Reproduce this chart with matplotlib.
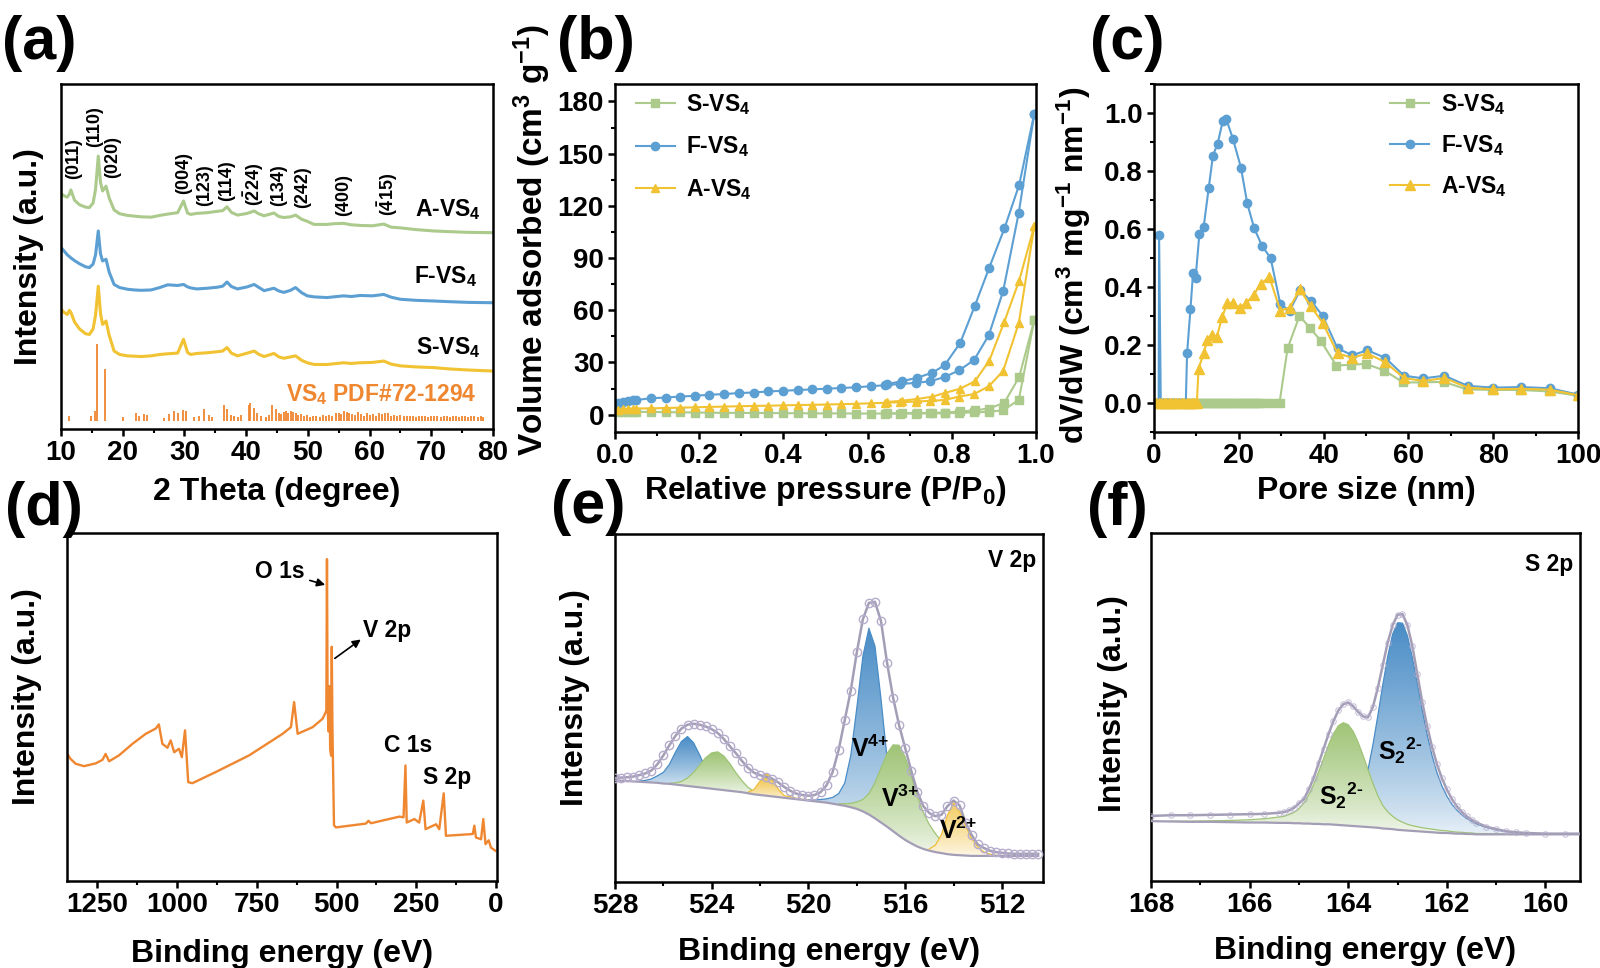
import numpy as np
import matplotlib
matplotlib.use("Agg")
import matplotlib.pyplot as plt
import matplotlib.colors as mcolors
from matplotlib.ticker import MultipleLocator, FormatStrFormatter, NullLocator

# ---------------- (a) XRD patterns ----------------
two_theta = [10.0, 10.5, 11.0, 11.35, 11.6, 12.2, 13.0, 14.0, 14.6, 15.2,
             15.6, 16.04, 16.4, 16.74, 17.3, 17.8, 18.6, 19.5, 20.8, 21.9,
             23.0, 24.6, 26.0, 27.3, 28.9, 29.85, 30.5, 31.0, 32.0, 33.7,
             35.35, 36.2, 36.9, 37.6, 38.6, 40.2, 41.3, 42.0, 42.9, 44.5,
             45.3, 46.1, 47.2, 48.0, 49.0, 49.9, 51.0, 53.1, 54.2, 55.8,
             57.0, 58.5, 60.5, 62.3, 63.5, 65.0, 67.5, 70.4, 73.0, 76.0, 80.0]
xrd_A = [68.2, 67.6, 67.2, 68.0, 69.3, 66.3, 65.0, 64.3, 64.2, 65.5,
         69.5, 79.1, 71.5, 69.0, 70.4, 67.0, 63.5, 62.4, 61.9, 61.7,
         61.5, 61.4, 61.9, 62.3, 62.7, 66.1, 62.6, 62.2, 62.5, 62.7,
         63.1, 63.3, 64.4, 62.8, 62.0, 62.5, 63.2, 62.4, 61.8, 62.6,
         61.6, 61.3, 61.5, 62.0, 60.8, 60.2, 59.3, 59.3, 59.5, 59.6,
         59.2, 59.0, 58.9, 59.4, 58.5, 58.3, 57.8, 57.4, 57.2, 57.0, 56.9]
xrd_F = [52.6, 51.6, 50.5, 50.0, 49.6, 48.8, 47.9, 47.0, 46.8, 47.8,
         50.5, 57.4, 50.8, 48.7, 49.2, 45.5, 41.9, 41.0, 40.5, 40.3,
         40.2, 40.3, 41.0, 41.8, 41.6, 41.9, 41.2, 40.9, 40.6, 40.8,
         41.1, 41.4, 42.6, 41.3, 40.6, 41.2, 41.9, 41.1, 40.1, 40.8,
         40.0, 39.6, 40.2, 41.0, 39.5, 38.6, 38.3, 38.1, 38.3, 38.6,
         38.4, 38.7, 38.6, 39.0, 38.2, 37.6, 37.3, 37.1, 36.9, 36.7, 36.6]
xrd_S = [34.7, 33.8, 33.2, 34.4, 33.8, 31.0, 29.0, 27.6, 27.4, 29.0,
         33.0, 41.4, 33.5, 30.3, 31.3, 27.2, 22.6, 21.6, 21.2, 21.1,
         21.0, 21.2, 21.6, 21.8, 22.0, 26.0, 22.2, 21.6, 21.9, 22.1,
         22.4, 22.6, 23.6, 22.0, 21.2, 22.0, 22.6, 21.7, 21.0, 21.9,
         20.9, 20.5, 20.9, 21.2, 19.9, 19.2, 18.7, 18.7, 18.9, 19.2,
         19.0, 19.2, 19.3, 19.7, 18.8, 18.3, 18.0, 17.8, 17.4, 17.1, 16.8]

# standard card VS4 PDF#72-1294: positions and relative heights
pdf_pos = [11.3, 14.9, 15.5, 15.8, 17.2, 20.0, 22.1, 22.7, 23.5, 24.0,
           26.7, 27.5, 28.3, 28.9, 29.7, 30.2, 31.6, 32.4, 33.2, 34.0,
           34.5, 36.4, 36.95, 37.5, 38.0, 38.6, 39.1, 40.5, 40.7, 41.3,
           41.8, 42.4, 43.2, 43.7, 44.2, 44.8,
           45.3, 45.7, 46.1, 46.5, 46.8, 47.2, 47.6, 48.0, 48.4, 48.9,
           49.3, 49.8, 50.3, 50.9, 51.4, 51.9, 52.4, 52.9, 53.4, 53.9,
           54.5, 55.0, 55.4, 55.8, 56.3, 56.7, 57.2, 57.7, 58.2, 58.6,
           59.1, 59.6, 60.1, 60.6, 61.0, 61.5, 62.0, 62.5, 63.0, 63.5,
           64.0, 64.5, 65.0, 65.5, 66.0, 66.5, 67.0, 67.5, 68.0, 68.5,
           69.0, 69.5, 70.0, 70.5, 71.0, 71.5, 72.0, 72.5, 73.0, 73.5,
           74.0, 74.5, 75.0, 75.5, 76.0, 76.5, 77.0, 77.5, 78.0, 78.4]
pdf_h = [1.4, 1.4, 2.9, 22.4, 15.0, 1.2, 2.4, 1.4, 2.1, 1.7,
         1.0, 2.1, 2.9, 2.4, 3.1, 2.9, 1.2, 1.4, 3.4, 1.9,
         1.2, 4.6, 3.4, 1.9, 1.4, 1.2, 1.7, 4.8, 5.3, 3.9,
         2.4, 1.4, 1.2, 1.9, 4.8, 3.4,
         2.4, 2.0, 2.6, 2.9, 2.2, 2.9, 2.5, 2.2, 1.8, 2.0,
         1.5, 1.7, 1.2, 1.5, 1.6, 1.3, 1.8, 1.5, 1.7, 1.4,
         2.2, 2.4, 2.1, 2.9, 2.6, 2.3, 2.0, 1.8, 2.7, 2.0,
         1.6, 2.4, 1.8, 2.0, 1.5, 2.3, 2.1, 2.2, 2.4, 1.6,
         1.9, 1.5, 1.8, 1.6, 1.4, 1.6, 1.5, 1.3, 1.6, 1.4,
         1.5, 1.3, 1.6, 1.4, 1.5, 1.3, 1.5, 1.4, 1.3, 1.5,
         1.4, 1.3, 1.5, 1.4, 1.3, 1.4, 1.5, 1.3, 1.4, 1.3]
pdf_base = 2.3

hkl_labels = ['(011)', '(110)', '(020)', '(004)', '(123)', '(114)',
              r'($\bar{2}$24)', '(134)', '(242)', '(400)', r'($\bar{4}$15)']
hkl_x = [12.05, 15.4, 18.4, 29.85, 33.3, 36.9, 41.2, 45.2, 49.1, 55.8, 62.9]
hkl_y = [72.4, 81.7, 72.8, 68.0, 64.6, 66.1, 64.6, 64.6, 64.2, 61.7, 61.7]

# ---------------- (b) N2 isotherms ----------------
p_ads = [0.006, 0.018, 0.030, 0.043, 0.051, 0.085, 0.120, 0.155, 0.190, 0.224,
         0.259, 0.295, 0.329, 0.364, 0.399, 0.434, 0.468, 0.503, 0.538, 0.573,
         0.607, 0.642, 0.677, 0.714, 0.749, 0.783, 0.818, 0.853, 0.888, 0.922,
         0.959, 0.996]
p_des = [0.996, 0.960, 0.925, 0.889, 0.855, 0.820, 0.783, 0.754, 0.718, 0.682, 0.645]
S_ads = [1.5, 1.6, 1.6, 1.6, 1.6, 1.5, 1.4, 1.3, 1.2, 1.1,
         1.0, 1.0, 0.9, 0.9, 0.8, 0.8, 0.7, 0.7, 0.7, 0.6,
         0.6, 0.6, 0.6, 0.6, 0.7, 0.8, 1.0, 1.3, 1.6, 2.5, 8.4, 54.5]
S_des = [54.5, 21.6, 6.9, 3.5, 2.5, 1.8, 1.2, 1.0, 0.9, 0.8, 0.7]
F_ads = [6.5, 7.5, 7.8, 8.4, 8.4, 9.4, 9.8, 10.4, 10.8, 11.4,
         11.8, 12.4, 12.7, 13.3, 13.7, 14.1, 14.5, 14.9, 15.3, 15.7,
         16.3, 16.9, 17.6, 18.2, 19.2, 21.6, 25.5, 31.4, 45.7, 71.0, 116.0, 173.0]
F_des = [173.0, 132.0, 107.0, 84.5, 62.7, 41.2, 28.4, 24.1, 21.2, 19.2, 17.5]
A_ads = [2.5, 3.0, 3.2, 3.4, 3.5, 3.6, 3.8, 4.0, 4.2, 4.4,
         4.6, 4.8, 5.0, 5.1, 5.3, 5.5, 5.6, 5.8, 6.0, 6.2,
         6.5, 6.8, 7.1, 7.5, 7.9, 8.4, 10.4, 11.8, 16.3, 25.1, 52.5, 108.4]
A_des = [108.4, 77.0, 53.5, 31.0, 19.2, 14.9, 12.4, 10.3, 9.0, 8.0, 7.2]

# ---------------- (c) pore size distribution ----------------
pore_S = [0.5, 1.1, 1.7, 2.3, 2.9, 3.5, 4.1, 4.7, 5.3, 5.9, 6.5, 7.1, 7.7, 8.3,
          8.9, 9.5, 10.1, 10.7, 11.3, 11.9, 12.5, 13.1, 13.7, 14.3, 14.9, 15.5,
          16.1, 16.7, 17.3, 17.9, 18.5, 19.1, 19.7, 20.3, 20.9, 21.5, 22.1, 22.7,
          23.3, 23.9, 24.5, 25.1, 26.5, 28.0, 29.6,
          31.5, 34.3, 36.8, 39.3, 43.0, 46.5, 50.0, 54.3, 58.8, 63.3, 68.3, 73.8,
          79.8, 86.3, 93.1, 100.0]
dvdw_S = [0.0, 0.0, 0.0, 0.0, 0.0, 0.0, 0.0, 0.0, 0.0, 0.0, 0.0, 0.0, 0.0, 0.0,
          0.0, 0.0, 0.0, 0.0, 0.0, 0.0, 0.0, 0.0, 0.0, 0.0, 0.0, 0.0,
          0.0, 0.0, 0.0, 0.0, 0.0, 0.0, 0.0, 0.0, 0.0, 0.0, 0.0, 0.0,
          0.0, 0.0, 0.0, 0.0, 0.0, 0.0, 0.0,
          0.188, 0.300, 0.259, 0.215, 0.129, 0.132, 0.135, 0.112, 0.071, 0.071,
          0.073, 0.047, 0.045, 0.045, 0.040, 0.025]
pore_F = [0.5, 1.1, 1.2, 1.6, 2.2, 2.8, 3.4, 4.0, 4.6, 5.2, 5.8, 6.4, 7.0, 7.5,
          7.8, 8.6, 9.2, 9.8, 10.7, 11.7, 12.9, 13.9, 15.0, 16.2, 17.0, 18.6,
          20.5, 22.0, 23.6, 25.5, 27.5, 29.8, 32.0, 34.4, 37.0, 39.8, 43.3, 46.8,
          50.3, 54.5, 59.0, 63.5, 68.5, 74.0, 80.0, 86.5, 93.3, 100.0]
dvdw_F = [0.0, 0.0, 0.58, 0.0, 0.0, 0.0, 0.0, 0.0, 0.0, 0.0, 0.0, 0.0, 0.0, 0.0,
          0.171, 0.324, 0.447, 0.430, 0.582, 0.606, 0.741, 0.853, 0.894, 0.971,
          0.980, 0.912, 0.812, 0.688, 0.604, 0.541, 0.500, 0.341, 0.318, 0.388,
          0.353, 0.300, 0.188, 0.165, 0.182, 0.156, 0.094, 0.085, 0.094, 0.059,
          0.053, 0.055, 0.051, 0.029]
pore_A = [0.5, 1.1, 1.7, 2.3, 2.9, 3.5, 4.1, 4.7, 5.3, 5.9, 6.5, 7.1, 7.7, 8.3,
          8.9, 9.5, 10.1, 10.5, 11.7, 12.6, 13.6, 14.8, 16.1, 17.3, 18.6, 20.2,
          21.8, 23.5, 25.3, 27.2, 29.8, 32.0, 34.4, 37.0, 39.8, 43.3, 46.8, 50.3,
          54.5, 59.0, 63.5, 68.5, 74.0, 80.0, 86.5, 93.3, 100.0]
dvdw_A = [0.0, 0.0, 0.0, 0.0, 0.0, 0.0, 0.0, 0.0, 0.0, 0.0, 0.0, 0.0, 0.0, 0.0,
          0.0, 0.0, 0.0, 0.118, 0.171, 0.218, 0.235, 0.227, 0.298, 0.345, 0.345,
          0.329, 0.345, 0.374, 0.412, 0.435, 0.318, 0.329, 0.392, 0.333, 0.276,
          0.171, 0.156, 0.171, 0.141, 0.086, 0.076, 0.086, 0.053, 0.047, 0.049,
          0.046, 0.027]

# ---------------- (d) XPS survey ----------------
be_survey = [1344, 1334, 1318, 1292, 1255, 1234, 1224, 1213, 1182, 1140,
             1098, 1067, 1057, 1046, 1030, 1020, 1009, 994, 985, 975,
             965, 952, 879, 774, 669, 643, 633, 622, 575, 544,
             536, 532, 530, 528, 525, 522, 520, 517, 515, 513,
             511, 508, 502, 408, 400, 392, 303, 290, 284, 280,
             256, 241, 228, 221, 188, 178, 164, 157, 73, 68,
             63, 47, 40, 33, 23, 16, 2]
int_survey = [36.5, 35.1, 33.7, 33.0, 33.8, 34.8, 36.5, 34.4, 36.1, 39.4,
              42.3, 43.8, 45.0, 39.4, 38.3, 40.4, 37.0, 38.0, 35.6, 43.3,
              28.4, 28.1, 31.3, 36.1, 42.3, 44.2, 51.4, 42.3, 44.2, 46.6,
              48.1, 49.0, 92.5, 50.0, 43.0, 56.0, 38.0, 36.0, 67.3, 45.0,
              33.0, 16.0, 15.4, 16.5, 17.3, 16.6, 18.5, 18.3, 33.2, 16.8,
              17.8, 16.8, 23.1, 14.9, 16.3, 14.9, 25.2, 13.0, 13.5, 15.9,
              12.5, 12.0, 17.8, 10.6, 11.7, 9.6, 8.7]

# ---------------- (e) V 2p ----------------
be_v = [528.0, 527.75, 527.5, 527.25, 527.0, 526.75, 526.5, 526.25,
        526.0, 525.75, 525.5, 525.25, 525.0, 524.75, 524.5, 524.25,
        524.0, 523.75, 523.5, 523.25, 523.0, 522.75, 522.5, 522.25,
        522.0, 521.75, 521.5, 521.25, 521.0, 520.75, 520.5, 520.25,
        520.0, 519.75, 519.5, 519.25, 519.0, 518.75, 518.5, 518.25,
        518.0, 517.75, 517.5, 517.25, 517.0, 516.75, 516.5, 516.25,
        516.0, 515.75, 515.5, 515.25, 515.0, 514.75, 514.5, 514.25,
        514.0, 513.75, 513.5, 513.25, 513.0, 512.75, 512.5, 512.25,
        512.0, 511.75, 511.5, 511.25, 511.0, 510.75, 510.5]
raw_v = [29.9, 30.0, 30.1, 30.3, 30.7, 31.2, 32.0, 33.8,
         36.4, 39.3, 42.0, 44.1, 45.2, 45.5, 45.2, 44.7,
         43.9, 42.8, 41.1, 39.0, 37.0, 34.8, 32.8, 31.4,
         30.7, 30.2, 29.7, 28.6, 27.3, 26.2, 25.4, 25.0,
         24.8, 25.0, 25.8, 27.8, 31.6, 38.0, 46.5, 55.0,
         66.0, 75.5, 80.2, 80.5, 75.0, 63.0, 53.0, 45.0,
         38.5, 32.0, 26.0, 21.8, 19.8, 18.9, 19.3, 21.8,
         23.4, 22.0, 17.0, 13.5, 10.8, 9.8, 9.0, 8.6,
         8.4, 8.2, 8.1, 8.1, 8.1, 8.1, 8.1]
bg_v = [29.2, 29.1, 29.0, 28.9, 28.8, 28.7, 28.6, 28.5,
        28.3, 28.2, 28.0, 27.8, 27.6, 27.4, 27.2, 27.0,
        26.8, 26.6, 26.4, 26.2, 26.0, 25.8, 25.5, 25.2,
        25.0, 24.8, 24.6, 24.4, 24.2, 24.0, 23.8, 23.6,
        23.4, 23.2, 23.0, 22.8, 22.5, 22.2, 21.9, 21.5,
        21.0, 20.3, 19.4, 18.3, 17.1, 15.9, 14.6, 13.3,
        12.1, 11.1, 10.2, 9.5, 9.0, 8.6, 8.3, 8.0,
        7.8, 7.7, 7.6, 7.5, 7.5, 7.5, 7.5, 7.5,
        7.5, 7.5, 7.5, 7.5, 7.5, 7.5, 7.5]
# fitted components (height above background)
v4_half = [0, 0, 0, 0, 0.2, 0.5, 1.0, 2.0,
           3.2, 5.6, 9.3, 12.6, 14.2, 12.6, 9.3, 5.6,
           2.7, 1.1, 0.35, 0.1, 0, 0, 0, 0,
           0, 0, 0, 0, 0, 0, 0, 0,
           0, 0, 0, 0, 0, 0, 0, 0,
           0, 0, 0, 0, 0, 0, 0, 0,
           0, 0, 0, 0, 0, 0, 0, 0,
           0, 0, 0, 0, 0, 0, 0, 0,
           0, 0, 0, 0, 0, 0, 0]
v3_half = [0, 0, 0, 0, 0, 0, 0, 0,
           0, 0.2, 0.5, 1.1, 2.3, 4.1, 6.4, 8.7,
           10.3, 10.8, 9.8, 7.8, 5.4, 3.3, 1.7, 0.8,
           0.3, 0, 0, 0, 0, 0, 0, 0,
           0, 0, 0, 0, 0, 0, 0, 0,
           0, 0, 0, 0, 0, 0, 0, 0,
           0, 0, 0, 0, 0, 0, 0, 0,
           0, 0, 0, 0, 0, 0, 0, 0,
           0, 0, 0, 0, 0, 0, 0]
v2_half = [0, 0, 0, 0, 0, 0, 0, 0,
           0, 0, 0, 0, 0, 0, 0, 0,
           0, 0, 0, 0, 0, 0, 0.3, 1.4,
           4.0, 6.3, 5.2, 2.3, 0.6, 0.5, 0.3, 0.2,
           0.1, 0, 0, 0, 0, 0, 0, 0,
           0, 0, 0, 0, 0, 0, 0, 0,
           0, 0, 0, 0, 0, 0, 0, 0,
           0, 0, 0, 0, 0, 0, 0, 0,
           0, 0, 0, 0, 0, 0, 0]
v4_main = [0, 0, 0, 0, 0, 0, 0, 0,
           0, 0, 0, 0, 0, 0, 0, 0,
           0, 0, 0, 0, 0, 0, 0, 0,
           0, 0, 0, 0, 0, 0, 0, 0,
           0.2, 0.4, 0.7, 1.1, 1.8, 3.2, 6.5, 14.8,
           29.0, 44.5, 53.5, 49.5, 35.5, 19.8, 9.5, 4.5,
           2.2, 1.0, 0.4, 0.1, 0, 0, 0, 0,
           0, 0, 0, 0, 0, 0, 0, 0,
           0, 0, 0, 0, 0, 0, 0]
v3_main = [0, 0, 0, 0, 0, 0, 0, 0,
           0, 0, 0, 0, 0, 0, 0, 0,
           0, 0, 0, 0, 0, 0, 0, 0,
           0, 0, 0, 0, 0, 0, 0, 0,
           0, 0, 0, 0, 0, 0.3, 0.6, 1.1,
           2.0, 3.4, 6.0, 10.2, 15.6, 21.0, 24.8, 26.0,
           23.8, 19.5, 14.5, 10.5, 7.5, 5.3, 3.4, 2.0,
           1.0, 0.4, 0.1, 0, 0, 0, 0, 0,
           0, 0, 0, 0, 0, 0, 0]
v2_main = [0, 0, 0, 0, 0, 0, 0, 0,
           0, 0, 0, 0, 0, 0, 0, 0,
           0, 0, 0, 0, 0, 0, 0, 0,
           0, 0, 0, 0, 0, 0, 0, 0,
           0, 0, 0, 0, 0, 0, 0, 0,
           0, 0, 0, 0, 0, 0, 0, 0,
           0, 0, 0, 0, 0.5, 2.0, 5.3, 11.2,
           15.0, 12.5, 8.5, 5.0, 2.6, 1.2, 0.5, 0.2,
           0, 0, 0, 0, 0, 0, 0]

# ---------------- (f) S 2p ----------------
be_s = [168.0, 167.6, 167.2, 166.8, 166.4, 166.0, 165.7, 165.4,
        165.3, 165.2, 165.1, 165.0, 164.9, 164.8, 164.7, 164.6,
        164.5, 164.4, 164.3, 164.2, 164.1, 164.0, 163.9, 163.8,
        163.7, 163.6, 163.5, 163.4, 163.3, 163.2, 163.1, 163.0,
        162.9, 162.8, 162.7, 162.6, 162.5, 162.4, 162.3, 162.2,
        162.1, 162.0, 161.9, 161.8, 161.7, 161.6, 161.5, 161.4,
        161.2, 161.0, 160.8, 160.6, 160.4, 160.0, 159.6, 159.2]
raw_s = [18.7, 18.9, 18.9, 19.0, 19.1, 19.2, 19.3, 19.6,
         19.8, 20.3, 21.0, 22.3, 23.5, 26.3, 29.6, 33.8,
         38.0, 42.2, 46.0, 49.0, 50.8, 51.3, 50.2, 48.6,
         47.3, 47.0, 50.0, 55.5, 62.0, 68.5, 73.5, 76.5,
         76.7, 73.5, 67.5, 59.5, 51.5, 44.5, 38.5, 33.5,
         29.5, 26.3, 23.6, 21.5, 19.9, 18.6, 17.6, 16.8,
         15.6, 14.9, 14.3, 14.0, 13.8, 13.6, 13.6, 13.6]
bg_s = [17.2, 17.1, 17.0, 17.0, 16.9, 16.8, 16.8, 16.7,
        16.7, 16.7, 16.6, 16.6, 16.5, 16.5, 16.4, 16.4,
        16.3, 16.3, 16.2, 16.1, 16.0, 15.9, 15.8, 15.7,
        15.6, 15.5, 15.4, 15.3, 15.1, 15.0, 14.9, 14.7,
        14.6, 14.5, 14.4, 14.3, 14.2, 14.1, 14.0, 13.9,
        13.8, 13.8, 13.7, 13.6, 13.6, 13.5, 13.5, 13.4,
        13.4, 13.4, 13.4, 13.4, 13.4, 13.4, 13.4, 13.4]
s_half = [0, 0.1, 0.2, 0.3, 0.5, 0.8, 1.1, 1.7,
          1.9, 2.4, 3.1, 4.2, 5.9, 8.3, 11.4, 15.0,
          18.9, 22.8, 26.1, 28.5, 29.5, 29.0, 27.2, 24.2,
          20.5, 16.5, 12.7, 9.2, 6.6, 4.9, 3.7, 2.9,
          2.3, 1.8, 1.5, 1.3, 1.1, 1.0, 0.9, 0.8,
          0.7, 0.6, 0.5, 0.45, 0.4, 0.35, 0.3, 0.25,
          0.2, 0.15, 0.1, 0, 0, 0, 0, 0]
s_main = [0, 0, 0, 0, 0, 0, 0, 0,
          0, 0, 0, 0, 0.05, 0.1, 0.15, 0.2,
          0.3, 0.4, 0.6, 0.8, 1.2, 2.0, 3.75, 6.5,
          10.7, 16.4, 23.7, 32.2, 41.2, 49.5, 56.0, 59.5,
          59.5, 56.0, 49.8, 42.5, 35.0, 28.0, 22.0, 17.2,
          13.5, 10.6, 8.4, 6.8, 5.5, 4.5, 3.7, 3.0,
          2.0, 1.3, 0.8, 0.5, 0.3, 0.1, 0, 0]

GREEN = '#abca8c'
BLUE = '#5c9fd3'
YELLOW = '#f1c232'
ORANGE = '#ef8630'
FIT_BLUE = '#4a8dc6'
FIT_GREEN = '#9fc476'
FIT_YELLOW = '#f0bf3a'
ENV = '#a39eb6'
DOT = '#b6accc'

plt.rcParams['font.family'] = ['Liberation Sans', 'DejaVu Sans']
plt.rcParams['font.weight'] = 'bold'
plt.rcParams['mathtext.fontset'] = 'custom'
plt.rcParams['mathtext.rm'] = 'Liberation Sans:bold'
plt.rcParams['mathtext.bf'] = 'Liberation Sans:bold'
plt.rcParams['mathtext.it'] = 'Liberation Sans:bold:italic'
plt.rcParams['mathtext.default'] = 'bf'

fig = plt.figure(figsize=(16, 9.68), dpi=100)


def px_axes(x0, y0, x1, y1):
    return fig.add_axes([x0 / 1600, 1 - y1 / 968, (x1 - x0) / 1600, (y1 - y0) / 968])


def style(ax, xmaj, xmin, ymaj=None, ymin=None):
    for s in ax.spines.values():
        s.set_linewidth(1.8)
    ax.xaxis.set_major_locator(MultipleLocator(xmaj))
    ax.xaxis.set_minor_locator(MultipleLocator(xmin))
    if ymaj is None:
        ax.set_yticks([])
        ax.yaxis.set_minor_locator(NullLocator())
    else:
        ax.yaxis.set_major_locator(MultipleLocator(ymaj))
        ax.yaxis.set_minor_locator(MultipleLocator(ymin))
    ax.tick_params(which='major', direction='out', length=5, width=1.8,
                   labelsize=20, pad=3, top=False, right=False)
    ax.tick_params(which='minor', direction='out', length=3, width=1.5,
                   top=False, right=False)


def labels(ax, xl, xy, yl, yx, yy, ysize=23):
    ax.text(0.5, xy, xl, transform=ax.transAxes, ha='center', va='baseline', fontsize=23)
    ax.text(yx, yy, yl, transform=ax.transAxes, ha='center', va='center',
            rotation=90, fontsize=ysize)


def fade_fill(ax, x, base, height, color, z):
    x = np.asarray(x, float)
    lo = np.asarray(base, float)
    h = np.asarray(height, float)
    hi = lo + h
    poly = ax.fill_between(x, lo, hi, facecolor='none', edgecolor='none')
    y_lo = lo[h > 0].min()
    y_hi = hi.max()
    rgb = np.array(mcolors.to_rgb(color))
    cmap = mcolors.LinearSegmentedColormap.from_list('fade', [rgb * 0.12 + 0.88, rgb])
    ys = np.linspace(0, 100, 400)
    shade = np.clip((ys - y_lo) / (y_hi - y_lo), 0, 1) ** 0.8
    im = ax.imshow(shade.reshape(-1, 1), cmap=cmap, vmin=0, vmax=1, origin='lower',
                   aspect='auto', extent=(x.min(), x.max(), 0, 100), zorder=z,
                   interpolation='bilinear')
    im.set_clip_path(poly.get_paths()[0], transform=ax.transData)
    ax.plot(x, np.where(h > 0, hi, np.nan), color=color, lw=0.9, zorder=z + 0.1)


# ---------- (a) ----------
ax = px_axes(61, 84, 493, 429)
ax.plot(two_theta, xrd_A, color=GREEN, lw=2.2)
ax.plot(two_theta, xrd_F, color=BLUE, lw=2.2)
ax.plot(two_theta, xrd_S, color=YELLOW, lw=2.2)
ax.vlines(pdf_pos, pdf_base, [pdf_base + h for h in pdf_h], color=ORANGE, lw=1.3)
for lab, x, y in zip(hkl_labels, hkl_x, hkl_y):
    ax.text(x, y, lab, rotation=90, ha='center', va='bottom', fontsize=13)
ax.text(78.0, 63.7, 'A-VS$_4$', ha='right', va='center', fontsize=16.5)
ax.text(77.4, 44.1, 'F-VS$_4$', ha='right', va='center', fontsize=16.5)
ax.text(78.0, 23.6, 'S-VS$_4$', ha='right', va='center', fontsize=16.5)
ax.text(77.4, 10.0, 'VS$_4$ PDF#72-1294', ha='right', va='center', fontsize=16.5, color=ORANGE)
ax.set_xlim(10, 80)
ax.set_ylim(0, 100)
style(ax, 10, 5)
labels(ax, '2 Theta (degree)', -0.205, 'Intensity (a.u.)', -0.074, 0.5)

# ---------- (b) ----------
ax = px_axes(615, 84, 1036, 432)
for ads, des, col, mk, lab in [(S_ads, S_des, GREEN, 's', 'S-VS$_4$'),
                               (F_ads, F_des, BLUE, 'o', 'F-VS$_4$'),
                               (A_ads, A_des, YELLOW, '^', 'A-VS$_4$')]:
    ax.plot(p_ads, ads, color=col, marker=mk, ms=6, lw=1.5, label=lab)
    ax.plot(p_des, des, color=col, marker=mk, ms=6, lw=1.5)
ax.set_xlim(0, 1.0)
ax.set_ylim(-10, 190)
style(ax, 0.2, 0.1, 30, 15)
ax.xaxis.set_major_formatter(FormatStrFormatter('%.1f'))
ax.legend(loc='upper left', bbox_to_anchor=(0.0, 1.035), frameon=False, fontsize=16.5,
          handlelength=1.7, handletextpad=0.5, labelspacing=0.75, numpoints=1)
labels(ax, 'Relative pressure (P/P$_0$)', -0.193, 'Volume adsorbed (cm$^3$ g$^{-1}$)',
       -0.197, 0.55, ysize=24)

# ---------- (c) ----------
ax = px_axes(1154, 84, 1578, 432)
ax.plot(pore_S, dvdw_S, color=GREEN, marker='s', ms=5.5, lw=1.5, label='S-VS$_4$')
ax.plot(pore_F, dvdw_F, color=BLUE, marker='o', ms=6, lw=1.5, label='F-VS$_4$')
ax.plot(pore_A, dvdw_A, color=YELLOW, marker='^', ms=6.5, lw=1.5, label='A-VS$_4$')
ax.set_xlim(0, 100)
ax.set_ylim(-0.1, 1.1)
style(ax, 20, 10, 0.2, 0.1)
ax.yaxis.set_major_formatter(FormatStrFormatter('%.1f'))
ax.legend(loc='upper right', bbox_to_anchor=(0.88, 1.035), frameon=False, fontsize=16.5,
          handlelength=1.7, handletextpad=0.5, labelspacing=0.7, numpoints=1)
labels(ax, 'Pore size (nm)', -0.193, 'dV/dW (cm$^3$ mg$^{-1}$ nm$^{-1}$)', -0.19, 0.48, ysize=23)

# ---------- (d) ----------
ax = px_axes(67, 533, 497, 881)
ax.plot(be_survey, int_survey, color=ORANGE, lw=1.7)
arrow = dict(arrowstyle='-|>', color='black', lw=1.2, mutation_scale=12, shrinkA=2, shrinkB=0)
ax.annotate('O 1s', xy=(535.6, 85.1), xytext=(601, 88.9), ha='right', va='center',
            fontsize=16.5, arrowprops=arrow)
ax.annotate('', xy=(424, 69.4), xytext=(512.5, 63.5), arrowprops=arrow)
ax.text(418, 72.1, 'V 2p', ha='left', va='center', fontsize=16.5)
ax.text(277, 38.9, 'C 1s', ha='center', va='center', fontsize=16.5)
ax.text(154, 29.8, 'S 2p', ha='center', va='center', fontsize=16.5)
ax.set_xlim(1345, -3)
ax.set_ylim(0, 100)
style(ax, 250, 125)
labels(ax, 'Binding energy (eV)', -0.232, 'Intensity (a.u.)', -0.093, 0.53)

# ---------- (e) ----------
ax = px_axes(615, 534, 1043, 882)
fade_fill(ax, be_v, bg_v, v4_half, FIT_BLUE, 2)
fade_fill(ax, be_v, bg_v, v3_half, FIT_GREEN, 3)
fade_fill(ax, be_v, bg_v, v2_half, FIT_YELLOW, 4)
fade_fill(ax, be_v, bg_v, v4_main, FIT_BLUE, 2)
fade_fill(ax, be_v, bg_v, v3_main, FIT_GREEN, 3)
fade_fill(ax, be_v, bg_v, v2_main, FIT_YELLOW, 4)
ax.plot(be_v, bg_v, color=ENV, lw=1.6, zorder=6)
ax.plot(be_v, raw_v, color=ENV, lw=1.8, zorder=7)
ax.plot(be_v, raw_v, ls='none', marker='o', ms=6, mfc='none', mec=DOT, mew=1.0, zorder=8)
ax.text(517.45, 38.3, r'V$^{4\text{+}}$', ha='center', va='center', fontsize=18, zorder=10)
ax.text(516.2, 23.9, r'V$^{3\text{+}}$', ha='center', va='center', fontsize=18, zorder=10)
ax.text(513.8, 14.8, r'V$^{2\text{+}}$', ha='center', va='center', fontsize=18, zorder=10)
ax.text(0.985, 0.925, 'V 2p', transform=ax.transAxes, ha='right', va='center', fontsize=16.5)
ax.set_xlim(528, 510.3)
ax.set_ylim(0, 100)
style(ax, 4, 2)
labels(ax, 'Binding energy (eV)', -0.225, 'Intensity (a.u.)', -0.093, 0.53)

# ---------- (f) ----------
ax = px_axes(1151, 533, 1580, 881)
fade_fill(ax, be_s, bg_s, s_main, FIT_BLUE, 2)
fade_fill(ax, be_s, bg_s, s_half, FIT_GREEN, 3)
ax.plot(be_s, bg_s, color=ENV, lw=1.6, zorder=6)
ax.plot(be_s, raw_s, color=ENV, lw=1.8, zorder=7)
ax.plot(be_s, raw_s, ls='none', marker='o', ms=4, mfc='none', mec=DOT, mew=0.8,
        alpha=0.7, zorder=8)
ax.text(162.95, 37.3, r'S$_2$$^{2\text{-}}$', ha='center', va='center', fontsize=18, zorder=10)
ax.text(164.14, 24.4, r'S$_2$$^{2\text{-}}$', ha='center', va='center', fontsize=18, zorder=10)
ax.text(0.985, 0.91, 'S 2p', transform=ax.transAxes, ha='right', va='center', fontsize=16.5)
ax.set_xlim(168, 159.3)
ax.set_ylim(0, 100)
style(ax, 2, 1)
labels(ax, 'Binding energy (eV)', -0.225, 'Intensity (a.u.)', -0.089, 0.51)

# panel letters
for lab, x, y in [('(a)', 39, 43), ('(b)', 596, 43), ('(c)', 1127, 43),
                  ('(d)', 44, 510), ('(e)', 588, 508), ('(f)', 1117, 510)]:
    fig.text(x / 1600, 1 - y / 968, lab, ha='center', va='center', fontsize=44)

fig.savefig('out.png', dpi=100)
